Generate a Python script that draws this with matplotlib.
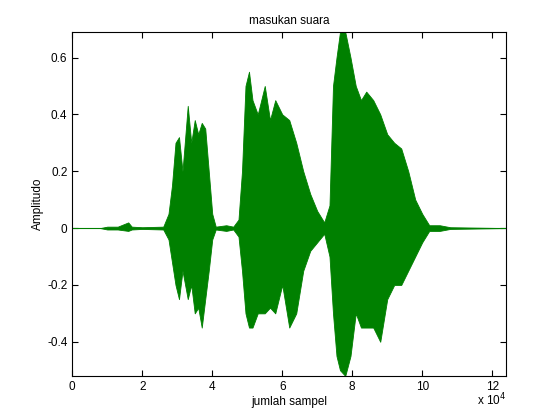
import numpy as np
from matplotlib import pyplot as plt

# envelope of the waveform, x in units of 1e4 samples
env_x = [0, 0.8, 1.0, 1.3, 1.6, 1.7, 2.0, 2.6, 2.75, 2.85, 2.95, 3.05, 3.15, 3.3, 3.4, 3.5,
         3.6, 3.7, 3.8, 3.9, 4.0, 4.1, 4.4, 4.6, 4.75, 4.85, 4.95, 5.05, 5.15, 5.3, 5.5,
         5.65, 5.8, 6.0, 6.2, 6.4, 6.6, 6.8, 7.0, 7.2, 7.35, 7.45, 7.55, 7.65, 7.8, 7.95,
         8.1, 8.25, 8.4, 8.6, 8.8, 9.0, 9.2, 9.4, 9.6, 9.8, 10.0, 10.2, 10.5, 10.8, 12.4]
env_hi = [0, 0, 0.005, 0.005, 0.02, 0.005, 0.003, 0.005, 0.05, 0.15, 0.3, 0.32, 0.2, 0.43, 0.3, 0.38,
          0.33, 0.37, 0.35, 0.2, 0.05, 0.005, 0.01, 0.005, 0.03, 0.2, 0.5, 0.55, 0.45, 0.4, 0.5,
          0.38, 0.45, 0.4, 0.38, 0.3, 0.2, 0.12, 0.06, 0.02, 0.08, 0.5, 0.6, 0.69, 0.69, 0.6,
          0.5, 0.45, 0.48, 0.45, 0.4, 0.33, 0.3, 0.28, 0.2, 0.1, 0.05, 0.01, 0.01, 0.003, 0]
env_lo = [0, 0, -0.005, -0.005, -0.01, -0.005, -0.003, -0.005, -0.04, -0.12, -0.2, -0.25, -0.15, -0.25, -0.2, -0.3,
          -0.28, -0.35, -0.25, -0.15, -0.04, -0.005, -0.01, -0.005, -0.03, -0.15, -0.3, -0.35, -0.35, -0.3, -0.3,
          -0.28, -0.3, -0.2, -0.35, -0.3, -0.15, -0.08, -0.05, -0.02, -0.1, -0.3, -0.45, -0.5, -0.52, -0.45,
          -0.3, -0.35, -0.35, -0.35, -0.4, -0.25, -0.2, -0.2, -0.15, -0.1, -0.05, -0.01, -0.01, -0.003, 0]

plt.rcParams["font.family"] = ["Liberation Sans", "DejaVu Sans"]
plt.rcParams["font.size"] = 8.5

fig = plt.figure(figsize=(5.6, 4.2), dpi=100)
ax = fig.add_axes([0.129, 0.105, 0.775, 0.819])

x = np.array(env_x) * 1e4
ax.fill_between(x, env_lo, env_hi, color="#008000", linewidth=0.6, edgecolor="#008000")
ax.plot([0, 124000], [0, 0], color="#008000", linewidth=0.8)

ax.set_xlim(0, 124000)
ax.set_ylim(-0.52, 0.69)
ax.set_xticks(np.arange(0, 12.1, 2) * 1e4)
ax.set_xticklabels([str(int(v)) for v in np.arange(0, 12.1, 2)])
ax.set_yticks([-0.4, -0.2, 0, 0.2, 0.4, 0.6])
ax.set_yticklabels(["-0.4", "-0.2", "0", "0.2", "0.4", "0.6"])
ax.tick_params(direction="in", top=True, right=True, length=4)
ax.text(1.0, -0.045, r"x 10$^{4}$", transform=ax.transAxes, ha="right", va="top")

ax.set_title("masukan suara", fontsize=8.5)
ax.set_xlabel("jumlah sampel", labelpad=2)
ax.set_ylabel("Amplitudo", labelpad=2)

fig.savefig("out.png")
